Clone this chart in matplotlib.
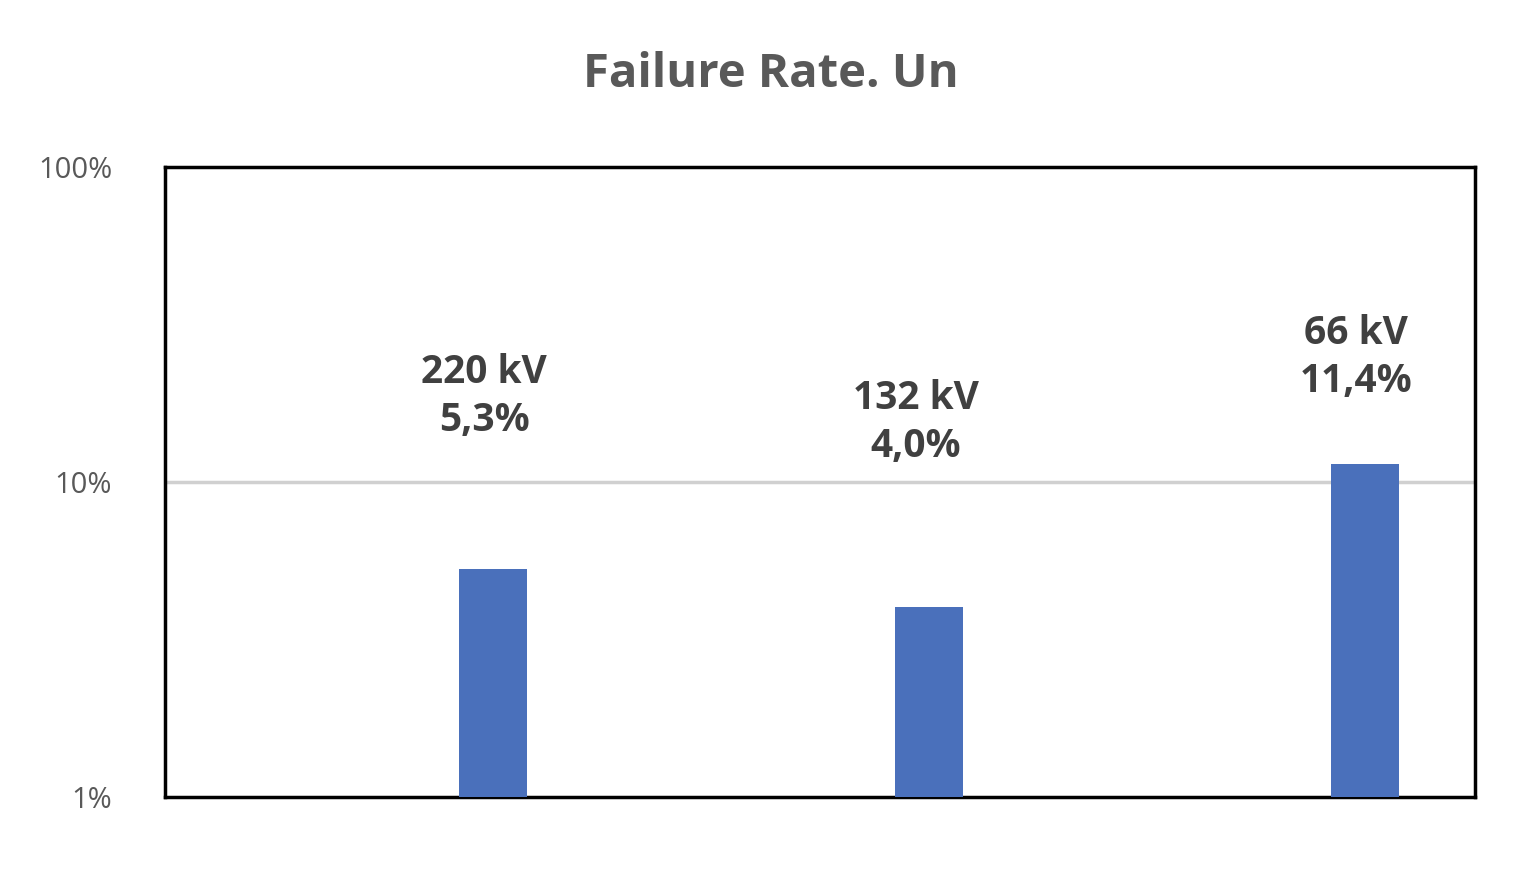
import matplotlib.pyplot as plt
from matplotlib.ticker import FixedLocator

categories = ["220 kV", "132 kV", "66 kV"]
rates = [5.3, 4.0, 11.4]          # percent
rate_labels = ["5,3%", "4,0%", "11,4%"]
label_y = [0.635, 0.595, 0.698]   # label centre, axes fraction
label_dx = [-0.02, -0.03, -0.02]

plt.rcParams['font.family'] = ['Open Sans', 'DejaVu Sans']

fig = plt.figure(figsize=(15.36, 8.73), dpi=100)
ax = fig.add_axes([165 / 1536, 1 - 797 / 873, 1310 / 1536, 630 / 873])

x = range(len(categories))
ax.bar(x, rates, width=0.156, color='#4a70bb', zorder=3)
ax.set_yscale('log')
ax.set_ylim(1, 100)
ax.set_xlim(-0.752, 2.252)

ax.yaxis.set_major_locator(FixedLocator([1, 10, 100]))
ax.yaxis.set_minor_locator(FixedLocator([]))
ax.set_yticklabels(["1%", "10%", "100%"], fontsize=21, color='#595959')
ax.tick_params(axis='y', length=0, pad=38)
ax.set_xticks([])
ax.axhline(10, color='#d0d0d0', lw=2.5, zorder=1)

for s in ax.spines.values():
    s.set_linewidth(2.5)
    s.set_color('black')

for i, (c, lab) in enumerate(zip(categories, rate_labels)):
    ax.text(i + label_dx[i], label_y[i], f"{c}\n{lab}",
            transform=ax.get_xaxis_transform(), ha='center', va='center',
            fontsize=28, fontweight='bold', color='#404040', linespacing=1.3)

fig.text(0.502, 0.915, "Failure Rate. Un", ha='center', va='center',
         fontsize=34, fontweight='bold', color='#595959')

fig.savefig('out.png', dpi=100)
